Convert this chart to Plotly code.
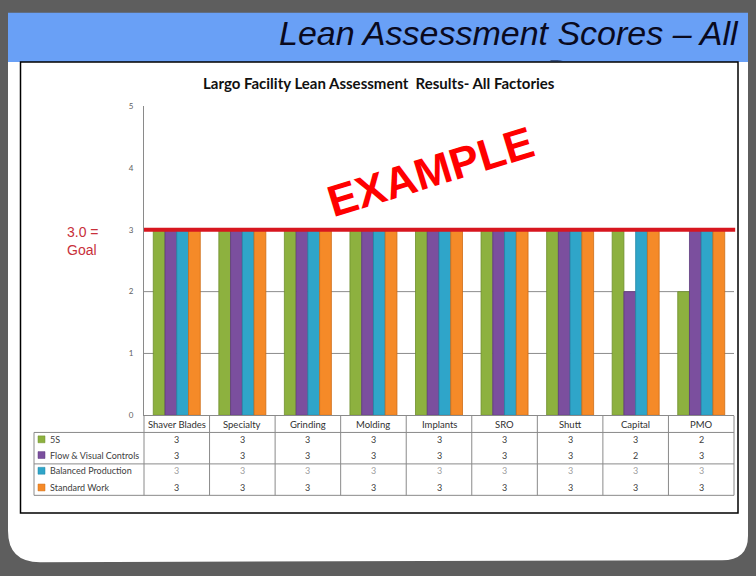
import plotly.graph_objects as go

# ---------------- data ----------------
categories = ["Shaver Blades", "Specialty", "Grinding", "Molding", "Implants",
              "SRO", "Shutt", "Capital", "PMO"]
series_names = ["5S", "Flow & Visual Controls", "Balanced Production", "Standard Work"]
scores_5s = [3, 3, 3, 3, 3, 3, 3, 3, 2]
scores_flow = [3, 3, 3, 3, 3, 3, 3, 2, 3]
scores_balanced = [3, 3, 3, 3, 3, 3, 3, 3, 3]
scores_standard = [3, 3, 3, 3, 3, 3, 3, 3, 3]
y_ticks = [0, 1, 2, 3, 4, 5]
grid_values = [1, 2]
goal_value = 3

series_values = [scores_5s, scores_flow, scores_balanced, scores_standard]
series_colors = ["#8db13f", "#7b4f9e", "#2fa5c9", "#f58a28"]
series_edges = ["#6f8f2c", "#5e3a7e", "#1f86a6", "#cf6c14"]
table_text_colors = ["#404040", "#404040", "#a0a0a0", "#404040"]

W, H = 756, 576


def px(x):
    return x / W


def py(y):
    return 1 - y / H


fig = go.Figure()
for name, vals, col, edge in zip(series_names, series_values, series_colors, series_edges):
    fig.add_trace(go.Bar(
        x=categories, y=vals, name=name,
        marker=dict(color=col, line=dict(color=edge, width=0.8)),
        showlegend=False, hoverinfo="x+y+name",
    ))

shapes = []
# slide white body with rounded bottom corners
shapes.append(dict(
    type="path", xref="paper", yref="paper", layer="below",
    path=(f"M {px(8)},{py(40)} L {px(748)},{py(40)} L {px(748)},{py(540)} "
          f"Q {px(748)},{py(565)} {px(722)},{py(565)} L {px(40)},{py(567)} "
          f"Q {px(8)},{py(567)} {px(8)},{py(535)} Z"),
    fillcolor="white", line=dict(width=0)))
# blue header bar
shapes.append(dict(type="rect", xref="paper", yref="paper", layer="below",
                   x0=px(8), x1=px(748), y0=py(58), y1=py(8),
                   fillcolor="#69a0f6", line=dict(width=0)))
# inner chart panel
shapes.append(dict(type="rect", xref="paper", yref="paper", layer="below",
                   x0=px(20.5), x1=px(738), y0=py(517), y1=py(58),
                   fillcolor="white", line=dict(color="black", width=1.5)))
# gridlines
for g in grid_values:
    shapes.append(dict(type="line", xref="x domain", yref="y", layer="below",
                       x0=0, x1=1, y0=g, y1=g,
                       line=dict(color="#8c8c8c", width=1)))
# goal line
shapes.append(dict(type="line", xref="x domain", yref="y", layer="above",
                   x0=0, x1=1.002, y0=goal_value, y1=goal_value,
                   line=dict(color="#d7161f", width=4)))

# data table lines
tcol = "#8a8a8a"
table_left, table_right = 34, 734
axis_left = 144
for yy in [435, 467, 499]:
    shapes.append(dict(type="line", xref="paper", yref="paper",
                       x0=px(table_left), x1=px(table_right), y0=py(yy), y1=py(yy),
                       line=dict(color=tcol, width=1)))
shapes.append(dict(type="line", xref="paper", yref="paper",
                   x0=px(table_left), x1=px(table_left), y0=py(435), y1=py(499),
                   line=dict(color=tcol, width=1)))
col_w = (table_right - axis_left) / len(categories)
for i in range(len(categories) + 1):
    xx = axis_left + i * col_w
    shapes.append(dict(type="line", xref="paper", yref="paper",
                       x0=px(xx), x1=px(xx), y0=py(418), y1=py(499),
                       line=dict(color=tcol, width=1)))

# legend keys in table
row_y = [442, 458, 474, 491]
for ry, col, edge in zip(row_y, series_colors, series_edges):
    shapes.append(dict(type="rect", xref="paper", yref="paper",
                       x0=px(38), x1=px(45), y0=py(ry + 3.5), y1=py(ry - 3.5),
                       fillcolor=col, line=dict(color=edge, width=0.5)))

annotations = []
# slide title
annotations.append(dict(text="<i>Lean Assessment Scores – All</i>", xref="paper", yref="paper",
                        x=px(741), y=py(28), xanchor="right", yanchor="middle",
                        showarrow=False,
                        font=dict(family="Liberation Sans, Arial", size=34, color="#0a0a1e")))
# wrapped second line, mostly hidden behind the panel
annotations.append(dict(text="<i>Departments</i>", xref="paper", yref="paper",
                        x=px(741), y=py(57.5), xanchor="right", yanchor="bottom",
                        height=8.5, borderpad=0, valign="top",
                        showarrow=False,
                        font=dict(family="Liberation Sans, Arial", size=34, color="#0a0a1e")))
# chart title
annotations.append(dict(text="<b>Largo Facility Lean Assessment  Results- All Factories</b>",
                        xref="paper", yref="paper", x=px(379), y=py(79),
                        xanchor="center", yanchor="middle", showarrow=False,
                        font=dict(family="Lato, Carlito, sans-serif", size=15, color="#111111")))
# EXAMPLE watermark
annotations.append(dict(text="<b>EXAMPLE</b>", xref="paper", yref="paper",
                        x=px(430), y=py(169), xanchor="center", yanchor="middle",
                        textangle=-17, showarrow=False,
                        font=dict(family="Liberation Sans, Arial", size=44, color="#ff0000")))
# goal label
annotations.append(dict(text="3.0 =<br>Goal", xref="paper", yref="paper",
                        x=px(65), y=py(240), xanchor="left", yanchor="middle",
                        align="left", showarrow=False,
                        font=dict(family="Liberation Sans, Arial", size=14, color="#c8303a")))
# table header row
for c in categories:
    annotations.append(dict(text=c, xref="x", yref="paper", x=c, y=py(426.5),
                            xanchor="center", yanchor="middle", showarrow=False,
                            font=dict(family="Lato, sans-serif", size=9.5, color="#303030")))
# table rows
for name, vals, ry, tc in zip(series_names, series_values, row_y, table_text_colors):
    annotations.append(dict(text=name, xref="paper", yref="paper", x=px(48), y=py(ry),
                            xanchor="left", yanchor="middle", showarrow=False,
                            font=dict(family="Lato, sans-serif", size=9, color="#404040")))
    for c, v in zip(categories, vals):
        annotations.append(dict(text=str(v), xref="x", yref="paper", x=c, y=py(ry),
                                xanchor="center", yanchor="middle", showarrow=False,
                                font=dict(family="Lato, sans-serif", size=9, color=tc)))

y0p = py(417.5)
y5p = py(103)
fig.update_layout(
    width=W, height=H,
    margin=dict(l=0, r=0, t=0, b=0),
    paper_bgcolor="#5e5e5e",
    plot_bgcolor="rgba(0,0,0,0)",
    barmode="group", bargap=0.283, bargroupgap=0,
    xaxis=dict(domain=[px(144), px(734)], showticklabels=False, showgrid=False,
               showline=True, linecolor="#8a8a8a", linewidth=1, zeroline=False,
               ticks="", fixedrange=True),
    yaxis=dict(domain=[y0p, y5p], range=[0, 5], tickvals=y_ticks,
               showgrid=False, zeroline=False, showline=True,
               linecolor="#8a8a8a", linewidth=1, ticks="outside", ticklen=6,
               tickcolor="rgba(0,0,0,0)", ticklabelstandoff=2,
               tickfont=dict(family="Lato, sans-serif", size=8, color="#606060")),
    shapes=shapes,
    annotations=annotations,
    showlegend=False,
)

fig.write_html("out.html", config={"displayModeBar": False},
               post_script="document.body.style.margin='0';document.body.style.overflow='hidden';")
